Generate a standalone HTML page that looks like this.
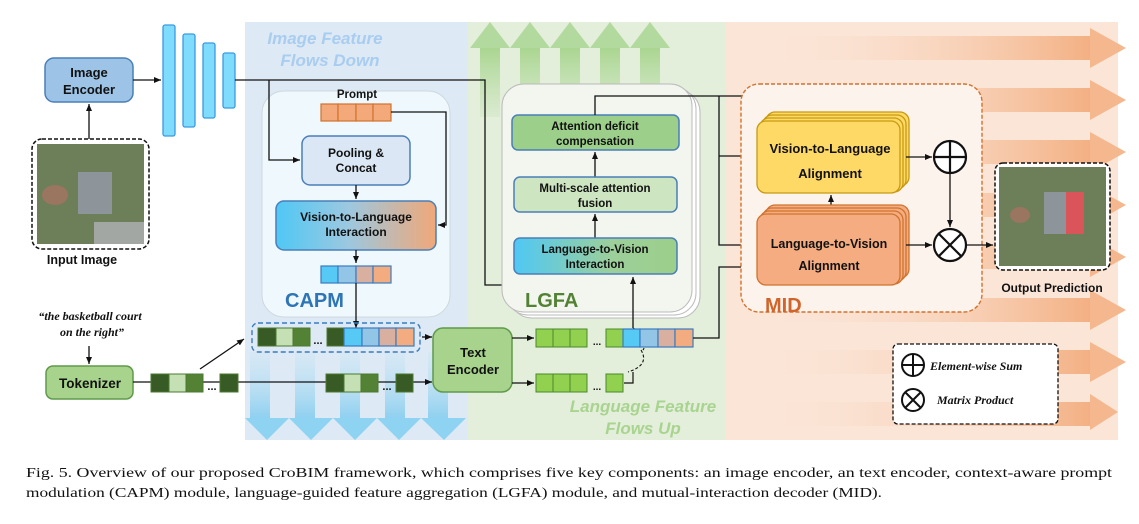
<!DOCTYPE html>
<html><head><meta charset="utf-8"><style>
body{margin:0;background:#fff}
svg{display:block}
.b{font-family:"Liberation Sans",sans-serif;font-weight:bold;fill:#111}
</style></head><body>
<svg width="1139" height="524" viewBox="0 0 1139 524" xmlns="http://www.w3.org/2000/svg">
<defs>
<marker id="ar" markerWidth="8" markerHeight="8" refX="7" refY="4" orient="auto" markerUnits="userSpaceOnUse"><path d="M0,1 L7,4 L0,7 Z" fill="#111"/></marker>
<linearGradient id="gv" x1="0" x2="1"><stop offset="0" stop-color="#4fc8f5"/><stop offset="0.45" stop-color="#9cc8e0"/><stop offset="1" stop-color="#f0a878"/></linearGradient>
<linearGradient id="gl" x1="0" x2="1"><stop offset="0" stop-color="#4fc8f5"/><stop offset="0.6" stop-color="#9ccf9a"/><stop offset="1" stop-color="#9ccf8a"/></linearGradient>
<linearGradient id="gd" x1="0" y1="0" x2="0" y2="1"><stop offset="0" stop-color="#c8e6f5" stop-opacity="0.3"/><stop offset="1" stop-color="#8fd0f0"/></linearGradient>
<linearGradient id="gu" x1="0" y1="1" x2="0" y2="0"><stop offset="0" stop-color="#b7dca4" stop-opacity="0.2"/><stop offset="1" stop-color="#a9d58f"/></linearGradient>
<linearGradient id="gr" x1="0" x2="1"><stop offset="0" stop-color="#fbe3d3" stop-opacity="0.1"/><stop offset="1" stop-color="#f3b083"/></linearGradient>
</defs>
<rect x="245" y="22" width="223" height="418" fill="#dde9f4"/>
<rect x="468" y="22" width="257" height="418" fill="#e3eedb"/>
<rect x="725" y="22" width="393" height="418" fill="#fbe5d7"/>
<g fill="url(#gd)">
<rect x="250" y="352" width="20" height="66"/><rect x="295" y="352" width="20" height="66"/><rect x="340" y="352" width="20" height="66"/><rect x="385" y="352" width="20" height="66"/><rect x="428" y="352" width="20" height="66"/>
</g>
<g fill="#8ed3f2">
<path d="M245,418h44l-22,22z"/><path d="M289,418h44l-22,22z"/><path d="M333,418h44l-22,22z"/><path d="M377,418h44l-22,22z"/><path d="M421,418h45l-22,22z"/>
</g>
<g fill="url(#gu)">
<rect x="480" y="47" width="20" height="70"/><rect x="520" y="47" width="20" height="70"/><rect x="560" y="47" width="20" height="70"/><rect x="600" y="47" width="20" height="70"/><rect x="640" y="47" width="20" height="70"/>
</g>
<g fill="#b3da9e">
<path d="M470,48l20,-26l20,26z"/><path d="M510,48l20,-26l20,26z"/><path d="M550,48l20,-26l20,26z"/><path d="M590,48l20,-26l20,26z"/><path d="M630,48l20,-26l20,26z"/>
</g>
<g fill="url(#gr)">
<rect x="780" y="36" width="310" height="24"/><rect x="780" y="88" width="310" height="24"/><rect x="780" y="140" width="310" height="24"/><rect x="780" y="193" width="310" height="24"/><rect x="780" y="245" width="310" height="24"/><rect x="780" y="298" width="310" height="24"/><rect x="780" y="350" width="310" height="24"/><rect x="780" y="402" width="310" height="24"/>
</g>
<g fill="#f4b78e">
<path d="M1090,28l36,20l-36,20z"/><path d="M1090,80l36,20l-36,20z"/><path d="M1090,132l36,20l-36,20z"/><path d="M1090,185l36,20l-36,20z"/><path d="M1090,237l36,20l-36,20z"/><path d="M1090,290l36,20l-36,20z"/><path d="M1090,342l36,20l-36,20z"/><path d="M1090,394l28,18l-28,18z"/>
</g>
<text x="325" y="44" font-family="Liberation Sans,sans-serif" font-weight="bold" font-style="italic" font-size="17" fill="#a9cdf0" text-anchor="middle">Image Feature</text>
<text x="330" y="66" font-family="Liberation Sans,sans-serif" font-weight="bold" font-style="italic" font-size="17" fill="#a9cdf0" text-anchor="middle">Flows Down</text>
<text x="643" y="412" font-family="Liberation Sans,sans-serif" font-weight="bold" font-style="italic" font-size="17" fill="#a9d490" text-anchor="middle">Language Feature</text>
<text x="643" y="434" font-family="Liberation Sans,sans-serif" font-weight="bold" font-style="italic" font-size="17" fill="#a9d490" text-anchor="middle">Flows Up</text>

<rect x="45" y="58" width="88" height="44" rx="9" fill="#9dc3e6" stroke="#4a7fb8" stroke-width="1.5"/>
<text class="b" x="89" y="77" font-size="13" text-anchor="middle">Image</text>
<text class="b" x="89" y="94" font-size="13" text-anchor="middle">Encoder</text>
<line x1="133" y1="80" x2="161" y2="80" stroke="#111" stroke-width="1.3" marker-end="url(#ar)"/>
<g fill="#7fdcfc" stroke="#3a9ae0" stroke-width="1.3">
<rect x="163" y="25" width="12" height="111" rx="2"/><rect x="183" y="34" width="12" height="93" rx="2"/><rect x="203" y="43" width="12" height="75" rx="2"/><rect x="223" y="53" width="12" height="55" rx="2"/>
</g>
<rect x="32" y="139" width="117" height="110" rx="10" fill="#fff" stroke="#111" stroke-width="1.5" stroke-dasharray="4,2"/>
<rect x="37" y="144" width="107" height="100" fill="#6d7f58"/>
<rect x="78" y="172" width="34" height="42" fill="#8d959a"/>
<ellipse cx="55" cy="195" rx="13" ry="10" fill="#9a7560"/>
<rect x="94" y="222" width="50" height="22" fill="#a3a7a4"/>
<line x1="89" y1="139" x2="89" y2="104" stroke="#111" stroke-width="1.3" marker-end="url(#ar)"/>
<text class="b" x="82" y="264" font-size="12.5" text-anchor="middle">Input Image</text>
<text x="90" y="320" font-family="Liberation Serif,serif" font-weight="bold" font-style="italic" font-size="12" text-anchor="middle" fill="#111">“the basketball court</text>
<text x="92" y="336" font-family="Liberation Serif,serif" font-weight="bold" font-style="italic" font-size="12" text-anchor="middle" fill="#111">on the right”</text>
<line x1="89" y1="346" x2="89" y2="364" stroke="#111" stroke-width="1.3" marker-end="url(#ar)"/>
<rect x="46" y="366" width="87" height="33" rx="7" fill="#a8d38d" stroke="#5f9a4a" stroke-width="1.5"/>
<text class="b" x="90" y="388" font-size="13.5" text-anchor="middle">Tokenizer</text>
<line x1="133" y1="382" x2="432" y2="382" stroke="#111" stroke-width="1.3" marker-end="url(#ar)"/>
<g stroke="#4a7a30" stroke-width="1">
<rect x="151" y="374" width="18" height="18" fill="#385a24"/><rect x="169" y="374" width="17" height="18" fill="#c4e0b4"/><rect x="186" y="374" width="17" height="18" fill="#548235"/><rect x="220" y="374" width="18" height="18" fill="#385a24"/>
<rect x="326" y="374" width="18" height="18" fill="#385a24"/><rect x="344" y="374" width="17" height="18" fill="#c4e0b4"/><rect x="361" y="374" width="17" height="18" fill="#548235"/><rect x="396" y="374" width="17" height="18" fill="#385a24"/>
</g>
<text class="b" x="212" y="390" font-size="11" text-anchor="middle">...</text>
<text class="b" x="387" y="390" font-size="11" text-anchor="middle">...</text>
<line x1="200" y1="369" x2="244" y2="339" stroke="#111" stroke-width="1.3" marker-end="url(#ar)"/>

<path d="M235,80 H485 V285 H595 V278" fill="none" stroke="#111" stroke-width="1.3" marker-end="url(#ar)"/>
<rect x="262" y="91" width="188" height="226" rx="22" fill="#eef8fd" stroke="#cfd8de" stroke-width="1"/>
<path d="M269,80 V160 H300" fill="none" stroke="#111" stroke-width="1.3" marker-end="url(#ar)"/>
<text class="b" x="357" y="98" font-size="11.5" text-anchor="middle">Prompt</text>
<g stroke="#d0732e" stroke-width="1.2" fill="#f3a97a"><rect x="321" y="104" width="17" height="17"/><rect x="338" y="104" width="18" height="17"/><rect x="356" y="104" width="17" height="17"/><rect x="373" y="104" width="18" height="17"/></g>
<path d="M391,112 H446 V225 H438" fill="none" stroke="#111" stroke-width="1.3" marker-end="url(#ar)"/>
<rect x="302" y="136" width="108" height="49" rx="8" fill="#dbe7f4" stroke="#4a7fb8" stroke-width="1.5"/>
<text class="b" x="356" y="157" font-size="12" text-anchor="middle">Pooling &amp;</text>
<text class="b" x="356" y="172" font-size="12" text-anchor="middle">Concat</text>
<line x1="356" y1="185" x2="356" y2="199" stroke="#111" stroke-width="1.3" marker-end="url(#ar)"/>
<rect x="276" y="201" width="160" height="49" rx="8" fill="url(#gv)" stroke="#4a7fb8" stroke-width="1.5"/>
<text class="b" x="356" y="221" font-size="12" text-anchor="middle">Vision-to-Language</text>
<text class="b" x="356" y="236" font-size="12" text-anchor="middle">Interaction</text>
<line x1="356" y1="250" x2="356" y2="263" stroke="#111" stroke-width="1.3" marker-end="url(#ar)"/>
<g stroke="#3a7cc0" stroke-width="1.2"><rect x="321" y="266" width="17" height="17" fill="#56c9f5"/><rect x="338" y="266" width="18" height="17" fill="#93c6e6"/><rect x="356" y="266" width="17" height="17" fill="#d9b0a0"/><rect x="373" y="266" width="18" height="17" fill="#f3ac80"/></g>
<text x="285" y="307" font-family="Liberation Sans,sans-serif" font-weight="bold" font-size="20" fill="#2e75b6">CAPM</text>
<line x1="356" y1="283" x2="356" y2="328" stroke="#111" stroke-width="1.3" marker-end="url(#ar)"/>
<rect x="252" y="323" width="168" height="29" rx="6" fill="none" stroke="#3a7cc0" stroke-width="1.4" stroke-dasharray="5,3"/>
<g stroke="#4a7a30" stroke-width="1"><rect x="258" y="328" width="18" height="18" fill="#385a24"/><rect x="276" y="328" width="17" height="18" fill="#c4e0b4"/><rect x="293" y="328" width="17" height="18" fill="#548235"/><rect x="327" y="328" width="17" height="18" fill="#385a24"/></g>
<g stroke="#3a7cc0" stroke-width="1.2"><rect x="344" y="328" width="18" height="18" fill="#56c9f5"/><rect x="362" y="328" width="17" height="18" fill="#93c6e6"/><rect x="379" y="328" width="17" height="18" fill="#d9b0a0"/><rect x="396" y="328" width="18" height="18" fill="#f3ac80"/></g>
<text class="b" x="318" y="344" font-size="11" text-anchor="middle">...</text>
<line x1="422" y1="337" x2="432" y2="337" stroke="#111" stroke-width="1.3" marker-end="url(#ar)"/>
<rect x="433" y="328" width="79" height="64" rx="10" fill="#a8d38d" stroke="#5f9a4a" stroke-width="1.5"/>
<text class="b" x="473" y="357" font-size="13" text-anchor="middle">Text</text>
<text class="b" x="473" y="374" font-size="13" text-anchor="middle">Encoder</text>

<rect x="510" y="90" width="190" height="228" rx="22" fill="#fff" stroke="#bbb"/>
<rect x="506" y="87" width="190" height="228" rx="22" fill="#fff" stroke="#bbb"/>
<rect x="502" y="84" width="190" height="228" rx="22" fill="#f2f6ee" stroke="#bbb"/>
<rect x="512" y="115" width="167" height="35" rx="6" fill="#9ccf8a" stroke="#4a7fb8" stroke-width="1.5"/>
<text class="b" x="595" y="130" font-size="11.5" text-anchor="middle">Attention deficit</text>
<text class="b" x="595" y="145" font-size="11.5" text-anchor="middle">compensation</text>
<line x1="595" y1="177" x2="595" y2="152" stroke="#111" stroke-width="1.3" marker-end="url(#ar)"/>
<rect x="514" y="177" width="163" height="35" rx="6" fill="#cde5c0" stroke="#4a7fb8" stroke-width="1.5"/>
<text class="b" x="595" y="192" font-size="11.5" text-anchor="middle">Multi-scale attention</text>
<text class="b" x="595" y="207" font-size="11.5" text-anchor="middle">fusion</text>
<line x1="595" y1="238" x2="595" y2="214" stroke="#111" stroke-width="1.3" marker-end="url(#ar)"/>
<rect x="514" y="238" width="163" height="36" rx="6" fill="url(#gl)" stroke="#4a7fb8" stroke-width="1.5"/>
<text class="b" x="595" y="253" font-size="11.5" text-anchor="middle">Language-to-Vision</text>
<text class="b" x="595" y="268" font-size="11.5" text-anchor="middle">Interaction</text>
<text x="525" y="307" font-family="Liberation Sans,sans-serif" font-weight="bold" font-size="20" fill="#548235">LGFA</text>
<line x1="633" y1="328" x2="633" y2="277" stroke="#111" stroke-width="1.3" marker-end="url(#ar)"/>
<path d="M633,328 Q650,340 643,350 M641,350 Q650,365 628,372" fill="none" stroke="#111" stroke-width="1.1" stroke-dasharray="3,2"/>
<line x1="512" y1="338" x2="534" y2="338" stroke="#111" stroke-width="1.3" marker-end="url(#ar)"/>
<line x1="512" y1="383" x2="534" y2="383" stroke="#111" stroke-width="1.3" marker-end="url(#ar)"/>
<g stroke="#4a8a2a" stroke-width="1" fill="#92d050"><rect x="536" y="329" width="17" height="18"/><rect x="553" y="329" width="17" height="18"/><rect x="570" y="329" width="17" height="18"/><rect x="606" y="329" width="17" height="18"/>
<rect x="536" y="374" width="17" height="18"/><rect x="553" y="374" width="17" height="18"/><rect x="570" y="374" width="17" height="18"/><rect x="606" y="374" width="17" height="18"/></g>
<g stroke="#3a7cc0" stroke-width="1.2"><rect x="623" y="329" width="17" height="18" fill="#56c9f5"/><rect x="640" y="329" width="18" height="18" fill="#93c6e6"/><rect x="658" y="329" width="17" height="18" fill="#d9b0a0"/><rect x="675" y="329" width="18" height="18" fill="#f3ac80"/></g>
<text class="b" x="597" y="345" font-size="10" text-anchor="middle">...</text>
<text class="b" x="597" y="390" font-size="10" text-anchor="middle">...</text>
<path d="M624,383 H633 V372" fill="none" stroke="#111" stroke-width="1.2"/>
<path d="M693,338 H719 V267 H752" fill="none" stroke="#111" stroke-width="1.3" marker-end="url(#ar)"/>
<path d="M595,115 V96 H950 V137" fill="none" stroke="#111" stroke-width="1.3" marker-end="url(#ar)"/>
<path d="M719,96 V245 H757" fill="none" stroke="#111" stroke-width="1.3" marker-end="url(#ar)"/>
<line x1="719" y1="156" x2="757" y2="156" stroke="#111" stroke-width="1.3" marker-end="url(#ar)"/>

<rect x="741" y="84" width="241" height="228" rx="18" fill="#fdf3ed" stroke="#d0732e" stroke-width="1.4" stroke-dasharray="4,2"/>
<g stroke="#c79a10" stroke-width="1.3" fill="#ffd966">
<rect x="766" y="112" width="143" height="74" rx="9"/><rect x="763" y="115" width="143" height="74" rx="9"/><rect x="760" y="118" width="143" height="74" rx="9"/><rect x="757" y="121" width="143" height="72" rx="9"/>
</g>
<text class="b" x="830" y="153" font-size="13" text-anchor="middle">Vision-to-Language</text>
<text class="b" x="830" y="178" font-size="13" text-anchor="middle">Alignment</text>
<line x1="831" y1="208" x2="831" y2="195" stroke="#111" stroke-width="1.3" marker-end="url(#ar)"/>
<g stroke="#d0732e" stroke-width="1.3" fill="#f4ac80">
<rect x="766" y="205" width="143" height="73" rx="9"/><rect x="763" y="208" width="143" height="73" rx="9"/><rect x="760" y="211" width="143" height="73" rx="9"/><rect x="757" y="214" width="143" height="71" rx="9"/>
</g>
<text class="b" x="829" y="248" font-size="12.5" text-anchor="middle">Language-to-Vision</text>
<text class="b" x="829" y="270" font-size="12.5" text-anchor="middle">Alignment</text>
<text x="765" y="312" font-family="Liberation Sans,sans-serif" font-weight="bold" font-size="20" fill="#d0642a">MID</text>
<line x1="906" y1="157" x2="932" y2="157" stroke="#111" stroke-width="1.3" marker-end="url(#ar)"/>
<line x1="906" y1="245" x2="932" y2="245" stroke="#111" stroke-width="1.3" marker-end="url(#ar)"/>
<line x1="950" y1="173" x2="950" y2="227" stroke="#111" stroke-width="1.3" marker-end="url(#ar)"/>
<g stroke="#111" stroke-width="2.2" fill="#fff">
<circle cx="950" cy="157" r="16"/><line x1="934" y1="157" x2="966" y2="157"/><line x1="950" y1="141" x2="950" y2="173"/>
<circle cx="950" cy="245" r="16"/><line x1="939" y1="234" x2="961" y2="256"/><line x1="961" y1="234" x2="939" y2="256"/>
</g>
<line x1="966" y1="245" x2="993" y2="245" stroke="#111" stroke-width="1.3" marker-end="url(#ar)"/>
<rect x="995" y="163" width="115" height="107" rx="8" fill="#fff" stroke="#111" stroke-width="1.5" stroke-dasharray="4,2"/>
<rect x="999" y="167" width="107" height="99" fill="#6d7f58"/>
<rect x="1044" y="192" width="22" height="42" fill="#8d959a"/><rect x="1066" y="192" width="18" height="42" fill="#d9555a"/>
<ellipse cx="1020" cy="215" rx="10" ry="8" fill="#9a7560"/>
<text class="b" x="1052" y="292" font-size="12" text-anchor="middle">Output Prediction</text>
<rect x="893" y="344" width="165" height="80" rx="5" fill="#fff" stroke="#111" stroke-width="1.3" stroke-dasharray="4,2"/>
<g stroke="#111" stroke-width="2" fill="none">
<circle cx="913" cy="365" r="11"/><line x1="902" y1="365" x2="924" y2="365"/><line x1="913" y1="354" x2="913" y2="376"/>
<circle cx="913" cy="400" r="11"/><line x1="905" y1="392" x2="921" y2="408"/><line x1="921" y1="392" x2="905" y2="408"/>
</g>
<text x="930" y="370" font-family="Liberation Serif,serif" font-weight="bold" font-style="italic" font-size="12" fill="#111">Element-wise Sum</text>
<text x="937" y="404" font-family="Liberation Serif,serif" font-weight="bold" font-style="italic" font-size="12" fill="#111">Matrix Product</text>
<text x="26" y="477" style="font-family:'Liberation Serif',serif" font-size="13.2" fill="#111" textLength="1086" lengthAdjust="spacingAndGlyphs">Fig. 5.  Overview of our proposed CroBIM framework, which comprises five key components: an image encoder, an text encoder, context-aware prompt</text>
<text x="26" y="497" style="font-family:'Liberation Serif',serif" font-size="13.2" fill="#111" textLength="856" lengthAdjust="spacingAndGlyphs">modulation (CAPM) module, language-guided feature aggregation (LGFA) module, and mutual-interaction decoder (MID).</text>
</svg>
</body></html>
